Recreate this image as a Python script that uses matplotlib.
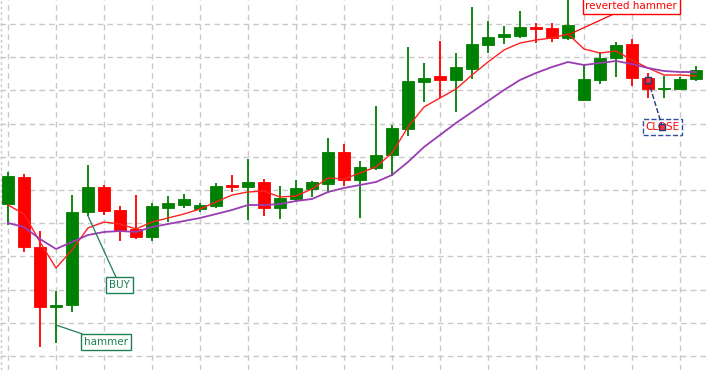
import numpy as np
import matplotlib
matplotlib.use("Agg")
from matplotlib import pyplot as plt

# candle data (price units)
opens  = [166, 193, 123, 63, 65, 158, 183, 160, 141, 133, 162, 165, 161, 164, 185,
          183, 188, 162, 171, 181, 186, 218, 190, 202, 215, 241, 288, 294, 290, 301,
          325, 333, 334, 343, 342, 332, 270, 290, 312, 326, 292, 281, 281, 291]
highs  = [198, 196, 139, 79, 175, 205, 185, 164, 175, 167, 174, 176, 167, 187, 195,
          211, 191, 184, 190, 189, 232, 226, 209, 264, 245, 323, 307, 329, 317, 363,
          349, 344, 359, 347, 347, 375, 305, 318, 328, 331, 297, 294, 293, 304]
lows   = [145, 118, 23, 27, 58, 154, 155, 129, 131, 129, 148, 162, 158, 162, 178,
          150, 154, 151, 168, 173, 177, 184, 152, 200, 194, 234, 268, 272, 258, 291,
          317, 326, 332, 327, 328, 330, 269, 286, 293, 284, 272, 272, 280, 289]
closes = [194, 123, 63, 65, 158, 183, 159, 139, 133, 164, 167, 171, 165, 184, 183,
          188, 162, 172, 182, 188, 218, 190, 203, 215, 242, 289, 292, 290, 303, 326,
          333, 336, 343, 341, 332, 345, 291, 312, 325, 292, 281, 282, 291, 300]

# moving averages as drawn on the chart
ma_fast = [165, 156, 128, 102, 120, 142, 148, 146, 141, 148, 152, 156, 161, 168, 175,
           178, 179, 173, 174, 181, 192, 191, 197, 203, 217, 243, 263, 272, 281, 295,
           308, 320, 327, 330, 332, 336, 321, 317, 319, 310, 302, 295, 295, 294]
ma_slow = [147, 143, 131, 121, 128, 135, 138, 139, 138, 143, 146, 149, 152, 156, 160,
           165, 165, 166, 169, 171, 178, 182, 185, 188, 195, 208, 223, 235, 247, 258,
           269, 280, 290, 297, 303, 308, 305, 307, 309, 306, 302, 299, 298, 298]

x = np.arange(len(opens))
o = np.array(opens)
c = np.array(closes)
up = c >= o
cols = np.where(up, "#008000", "#ff0000")

fig = plt.figure(figsize=(7.06, 3.70), dpi=100)
ax = fig.add_axes([0, 0, 1, 1])

ax.vlines(x, lows, highs, colors=cols, linewidth=1.3, zorder=2)
ax.bar(x, c - o, bottom=o, width=0.69, color=cols, edgecolor=cols, linewidth=0.6, zorder=3)

ax.plot(x, ma_fast, color="#ff2020", linewidth=1.0, zorder=4)
ax.plot(x, ma_slow, color="#9a3db3", linewidth=1.3, zorder=4)

# annotations
grn = "#1f7f55"
box_g = dict(boxstyle="square,pad=0.25", fc="white", ec=grn, lw=1)
ax.annotate("hammer", xy=(3, 45), xytext=(4.75, 28), fontsize=7.5, color=grn,
            va="center", ha="left", bbox=box_g,
            arrowprops=dict(arrowstyle="-", color=grn, lw=0.9, shrinkA=0, shrinkB=0), zorder=6)
ax.annotate("BUY", xy=(5, 154), xytext=(6.97, 85), fontsize=7.5, color=grn,
            va="center", ha="center", bbox=box_g,
            arrowprops=dict(arrowstyle="-", color=grn, lw=0.9, shrinkA=0, shrinkB=0), zorder=6)
ax.annotate("reverted hammer", xy=(35, 335), xytext=(38.95, 364), fontsize=7.5, color="#ff0000",
            va="center", ha="center",
            bbox=dict(boxstyle="square,pad=0.25", fc="white", ec="#ff0000", lw=1),
            arrowprops=dict(arrowstyle="-", color="#ff0000", lw=0.9, shrinkA=0, shrinkB=0), zorder=6)
ax.text(40.9, 243, "CLOSE", fontsize=7.5, color="#ff0000", va="center", ha="center",
        bbox=dict(boxstyle="square,pad=0.25", fc="white", ec="#3050a0", lw=1, ls="--"), zorder=6)
ax.plot([40, 40.9], [290, 243], color="#203a80", lw=1, ls="--", marker="s", ms=4,
        mfc="#ff3030", mec="#203a80", zorder=7)

ax.set_xlim(-0.5, 43.625)
ax.set_ylim(0, 370)
ax.set_xticks(np.arange(0, 44, 3))
ax.set_yticks(np.arange(14, 370, 33.2))
ax.grid(True, color="#c8c8c8", linestyle=(0, (4, 3)), linewidth=1)
ax.axvline(-0.41, color="#c8c8c8", linestyle=(0, (2, 2)), linewidth=1)
ax.tick_params(length=0, labelbottom=False, labelleft=False)
for s in ax.spines.values():
    s.set_visible(False)

fig.savefig("out.png", dpi=100)
